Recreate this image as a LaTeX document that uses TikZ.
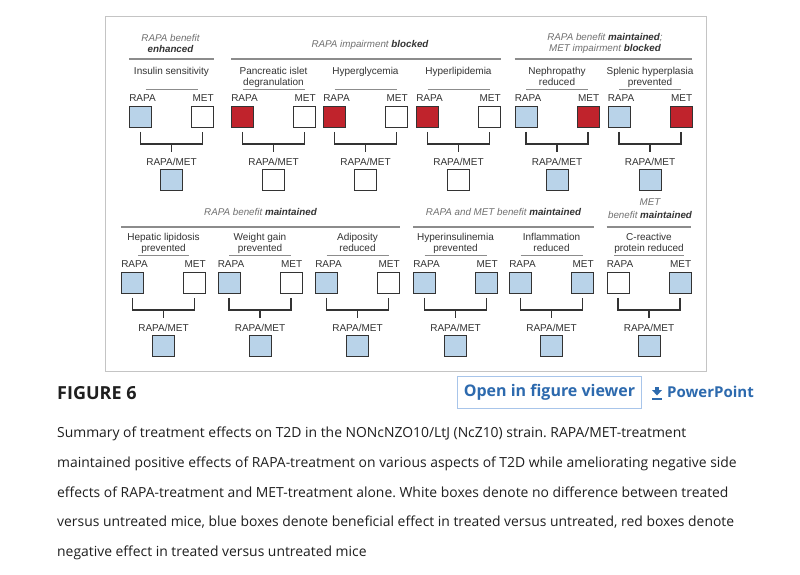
\documentclass[tikz,border=0pt]{standalone}
\usepackage{fontspec}
\setmainfont{Liberation Sans}
\newfontfamily\capfont{Open Sans}
\usepackage{xcolor}
\usepackage{tikz}
\usetikzlibrary{positioning,calc}
\frenchspacing
\definecolor{fgblue}{HTML}{B9D3E9}
\definecolor{fgred}{HTML}{C0232C}
\definecolor{fgink}{HTML}{333333}
\definecolor{fggray}{HTML}{707070}
\definecolor{fgrule}{HTML}{8C8C8C}
\definecolor{fgframe}{HTML}{C4C4C4}
\definecolor{pglink}{HTML}{2D6AAE}
\definecolor{pgbtn}{HTML}{A8C5EA}
\definecolor{pgtext}{HTML}{1F1F1F}

\begin{document}
\begin{tikzpicture}[
  x=1pt, y=-1pt,
  box/.style={draw=fgink, line width=0.9pt, minimum width=22pt,
    minimum height=21pt, inner sep=0pt},
  lab/.style={text=fgink, font=\fontsize{10}{11}\selectfont, inner sep=0pt},
  subt/.style={lab, align=center},
  ttl/.style={align=center, text=fggray, inner sep=0pt,
    font=\fontsize{9.8}{11.5}\selectfont\itshape},
  hdr/.style={draw=fgrule, line width=1.4pt},
  sub/.style={draw=fgrule, line width=0.9pt},
  brk/.style={draw=fgink, line width=1.3pt},
  btn/.style={draw=pgbtn, line width=1.5pt, minimum width=184pt,
    minimum height=32pt, inner sep=0pt, text=pglink,
    font=\capfont\bfseries\fontsize{16}{18}\selectfont},
  captxt/.style={anchor=base west, inner sep=0pt, text=pgtext,
    font=\capfont\fontsize{13.9}{17}\selectfont},
  ]
  \fill[white] (0,0) rectangle (800,575);
  \useasboundingbox (0,0) rectangle (800,575);

  % figure frame
  \draw[fgframe, line width=1pt] (105,17) rectangle (706.5,371.5);

  % treatment groups: RAPA, MET and RAPA/MET boxes
  \foreach \n/\x/\y/\fa/\fb/\fc/\w/\txt in {
    1/140.5/116.5/fgblue/white/fgblue/52/{Insulin sensitivity},
    2/242.5/116.5/fgred/white/white/62/{Pancreatic islet\\degranulation},
    3/334.5/116.5/fgred/white/white/62/{Hyperglycemia},
    4/427.5/116.5/fgred/white/white/62/{Hyperlipidemia},
    5/526/116.5/fgblue/fgred/fgblue/62/{Nephropathy\\reduced},
    6/619/116.5/fgblue/fgred/fgblue/62/{Splenic hyperplasia\\prevented},
    7/132.5/282.5/fgblue/white/fgblue/51/{Hepatic lipidosis\\prevented},
    8/229/282.5/fgblue/white/fgblue/62/{Weight gain\\prevented},
    9/326.5/282.5/fgblue/white/fgblue/62/{Adiposity\\reduced},
    10/424.5/282.5/fgblue/fgblue/fgblue/62/{Hyperinsulinemia\\prevented},
    11/520.5/282.5/fgblue/fgblue/fgblue/62/{Inflammation\\reduced},
    12/618/282.5/white/fgblue/fgblue/70/{C-reactive\\protein reduced}}{
    \node[box, fill=\fa] (rapa\n) at (\x,\y) {};
    \node[box, fill=\fb] (met\n) at (\x+62,\y) {};
    \node[box, fill=\fc] (combo\n) at (\x+31,\y+63) {};
    \node[lab, anchor=south west] (rl\n) at ([yshift=3.5pt]rapa\n.north west) {RAPA};
    \node[lab, anchor=south east] (ml\n) at ([yshift=3.5pt]met\n.north east) {MET};
    \node[lab, anchor=south] (cl\n) at ([yshift=2.5pt]combo\n.north) {RAPA/MET};
    \draw[brk] ([yshift=-4.5pt]rapa\n.south) -- ++(0,12) coordinate (j\n)
      -| ([yshift=-4.5pt]met\n.south);
    \draw[brk] (j\n -| cl\n) -- ([yshift=6pt]cl\n.north);
    \coordinate (s\n) at ($(rapa\n.north)!0.5!(met\n.north)+(0,-16.5)$);
    \draw[sub] (s\n) ++(-\w/2,0) -- ++(\w,0);
    \node[subt, anchor=north] (t\n) at ($(s\n)+(0,-22)$) {\txt};
  }

  % group rules and headings
  \coordinate (hT) at (0,59);
  \coordinate (hB) at (0,227);
  \draw[hdr] (rapa1.west |- hT) -- (met1.east |- hT);
  \draw[hdr] (rapa2.west |- hT) -- (met4.east |- hT);
  \draw[hdr] (rapa5.west |- hT) -- (met6.east |- hT);
  \draw[hdr] (rapa7.west |- hB) -- (met9.east |- hB);
  \draw[hdr] (rapa10.west |- hB) -- (met11.east |- hB);
  \draw[hdr] (rapa12.west |- hB) -- (met12.east |- hB);
  \node[ttl] (g1) at (170.5,43.5) {RAPA benefit\\\textbf{\color{fgink}enhanced}};
  \node[ttl] (g2) at (370,45) {RAPA impairment \textbf{\color{fgink}blocked}};
  \node[ttl] (g3) at (605,43.5)
    {RAPA benefit \textbf{\color{fgink}maintained};\\MET impairment \textbf{\color{fgink}blocked}};
  \node[ttl] (g4) at (260.5,212) {RAPA benefit \textbf{\color{fgink}maintained}};
  \node[ttl] (g5) at (503.5,212) {RAPA and MET benefit \textbf{\color{fgink}maintained}};
  \node[ttl, font=\fontsize{9.8}{13}\selectfont\itshape] (g6) at (650,209)
    {MET\\benefit \textbf{\color{fgink}maintained}};

  % page furniture below the figure
  \node[anchor=base west, inner sep=0pt, text=pgtext,
    font=\capfont\bfseries\fontsize{18}{20}\selectfont] (fig) at (57,399) {FIGURE 6};
  \node[btn] (viewer) at (549.5,392.5) {Open in figure viewer};
  \node[anchor=base west, inner sep=0pt, text=pglink,
    font=\capfont\bfseries\fontsize{15}{18}\selectfont] (ppt) at (667,397.3) {PowerPoint};
  \fill[pglink] (655,386.5) rectangle (659,390.5);
  \fill[pglink] (652,390) -- (662,390) -- (657,395.5) -- cycle;
  \fill[pglink] (652,397.5) rectangle (662,399.5);

  \foreach \ln [count=\k] in {
    {Summary of treatment effects on T2D in the NONcNZO10/LtJ (NcZ10) strain. RAPA/MET-treatment},
    {maintained positive effects of RAPA-treatment on various aspects of T2D while ameliorating negative side},
    {effects of RAPA-treatment and MET-treatment alone. White boxes denote no difference between treated},
    {versus untreated mice, blue boxes denote beneficial effect in treated versus untreated, red boxes denote},
    {negative effect in treated versus untreated mice}}
    \node[captxt] (cap\k) at (57,437.3+29.85*\k-29.85) {\ln};
\end{tikzpicture}
\end{document}
